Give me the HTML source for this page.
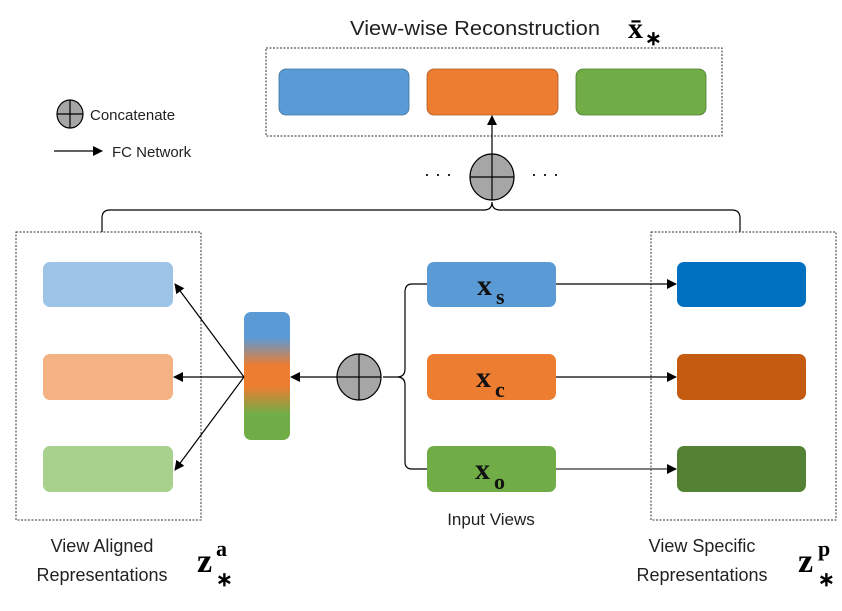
<!DOCTYPE html>
<html><head><style>
body{margin:0;background:#fff;}
svg text{font-family:"Liberation Sans",sans-serif;}
.m{font-family:"Liberation Serif",serif;font-weight:bold;}
</style></head><body>
<svg width="842" height="606" viewBox="0 0 842 606" xmlns="http://www.w3.org/2000/svg">
<defs>
<marker id="ah" markerWidth="10" markerHeight="10" refX="9" refY="5" orient="auto" markerUnits="userSpaceOnUse">
<path d="M0,0 L10,5 L0,10 z" fill="#000"/></marker>
<linearGradient id="g" x1="0" y1="0" x2="0" y2="1">
<stop offset="0" stop-color="#5b9bd5"/><stop offset="0.2" stop-color="#5b9bd5"/>
<stop offset="0.42" stop-color="#ed7d31"/><stop offset="0.58" stop-color="#ed7d31"/>
<stop offset="0.8" stop-color="#70ad47"/><stop offset="1" stop-color="#70ad47"/></linearGradient>
</defs>
<text x="475" y="35" font-size="20" text-anchor="middle" fill="#222" textLength="250" lengthAdjust="spacingAndGlyphs">View-wise Reconstruction</text>
<text x="628" y="38" font-size="30" class="m">x̄</text>
<text x="645" y="45" font-size="20" class="m">∗</text>
<rect x="266" y="48" width="456" height="88" fill="none" stroke="#333" stroke-dasharray="2,1.5"/>
<rect x="279" y="69" width="130" height="46" rx="7" fill="#5b9bd5" stroke="#41719c" stroke-width="0.8"/>
<rect x="427" y="69" width="131" height="46" rx="7" fill="#ed7d31" stroke="#ae5a21" stroke-width="0.8"/>
<rect x="576" y="69" width="130" height="46" rx="7" fill="#70ad47" stroke="#507e32" stroke-width="0.8"/>
<ellipse cx="70" cy="114" rx="13" ry="14" fill="#a6a6a6" stroke="#000" stroke-width="1.2"/>
<path d="M57,114H83M70,100V128" stroke="#000" stroke-width="1.2"/>
<text x="90" y="120" font-size="15" fill="#222">Concatenate</text>
<line x1="54" y1="151" x2="102" y2="151" stroke="#000" stroke-width="1.2" marker-end="url(#ah)"/>
<text x="112" y="157" font-size="15" fill="#222">FC Network</text>
<text x="438" y="180" font-size="18" text-anchor="middle">· · ·</text>
<text x="545" y="180" font-size="18" text-anchor="middle">· · ·</text>
<ellipse cx="492" cy="177" rx="22" ry="23" fill="#a6a6a6" stroke="#000" stroke-width="1.2"/>
<path d="M470,177H514M492,154V200" stroke="#000" stroke-width="1.2"/>
<line x1="492" y1="154" x2="492" y2="116" stroke="#000" stroke-width="1.2" marker-end="url(#ah)"/>
<path d="M102,232V218Q102,210 110,210H484Q492,210 492,202Q492,210 500,210H732Q740,210 740,218V232" fill="none" stroke="#000" stroke-width="1.2"/>
<rect x="16" y="232" width="185" height="288" fill="none" stroke="#333" stroke-dasharray="2,1.5"/>
<rect x="651" y="232" width="185" height="288" fill="none" stroke="#333" stroke-dasharray="2,1.5"/>
<rect x="43" y="262" width="130" height="45" rx="7" fill="#9dc3e6"/>
<rect x="43" y="354" width="130" height="46" rx="7" fill="#f4b183"/>
<rect x="43" y="446" width="130" height="46" rx="7" fill="#a9d18e"/>
<rect x="244" y="312" width="46" height="128" rx="7" fill="url(#g)"/>
<ellipse cx="359" cy="377" rx="22" ry="23" fill="#a6a6a6" stroke="#000" stroke-width="1.2"/>
<path d="M337,377H381M359,354V400" stroke="#000" stroke-width="1.2"/>
<line x1="337" y1="377" x2="291" y2="377" stroke="#000" stroke-width="1.2" marker-end="url(#ah)"/>
<line x1="244" y1="377" x2="174" y2="377" stroke="#000" stroke-width="1.2" marker-end="url(#ah)"/>
<line x1="244" y1="377" x2="175" y2="284" stroke="#000" stroke-width="1.2" marker-end="url(#ah)"/>
<line x1="244" y1="377" x2="175" y2="470" stroke="#000" stroke-width="1.2" marker-end="url(#ah)"/>
<path d="M427,284H412Q405,284 405,292V369Q405,377 397,377H383M397,377Q405,377 405,385V462Q405,469 412,469H427" fill="none" stroke="#000" stroke-width="1.2"/>
<rect x="427" y="262" width="129" height="45" rx="7" fill="#5b9bd5"/>
<rect x="427" y="354" width="129" height="46" rx="7" fill="#ed7d31"/>
<rect x="427" y="446" width="129" height="46" rx="7" fill="#70ad47"/>
<g fill="#111">
<text x="477" y="295" font-size="30" class="m">x</text><text x="496" y="304" font-size="22" class="m">s</text>
<text x="476" y="387" font-size="30" class="m">x</text><text x="495" y="397" font-size="22" class="m">c</text>
<text x="475" y="479" font-size="30" class="m">x</text><text x="494" y="489" font-size="22" class="m">o</text>
</g>
<rect x="677" y="262" width="129" height="45" rx="7" fill="#0070c0"/>
<rect x="677" y="354" width="129" height="46" rx="7" fill="#c55a11"/>
<rect x="677" y="446" width="129" height="46" rx="7" fill="#548235"/>
<line x1="556" y1="284" x2="676" y2="284" stroke="#000" stroke-width="1.2" marker-end="url(#ah)"/>
<line x1="556" y1="377" x2="676" y2="377" stroke="#000" stroke-width="1.2" marker-end="url(#ah)"/>
<line x1="556" y1="469" x2="676" y2="469" stroke="#555" stroke-width="1.5" marker-end="url(#ah)"/>
<text x="491" y="525" font-size="17" text-anchor="middle" fill="#222">Input Views</text>
<text x="102" y="552" font-size="18" text-anchor="middle" fill="#222">View Aligned</text>
<text x="102" y="581" font-size="18" text-anchor="middle" fill="#222">Representations</text>
<text x="702" y="552" font-size="18" text-anchor="middle" fill="#222">View Specific</text>
<text x="702" y="581" font-size="18" text-anchor="middle" fill="#222">Representations</text>
<text x="197" y="572" font-size="34" class="m">z</text>
<text x="216" y="556" font-size="22" class="m">a</text>
<text x="216" y="586" font-size="20" class="m">∗</text>
<text x="798" y="572" font-size="34" class="m">z</text>
<text x="818" y="556" font-size="22" class="m">p</text>
<text x="818" y="586" font-size="20" class="m">∗</text>
</svg>
</body></html>
